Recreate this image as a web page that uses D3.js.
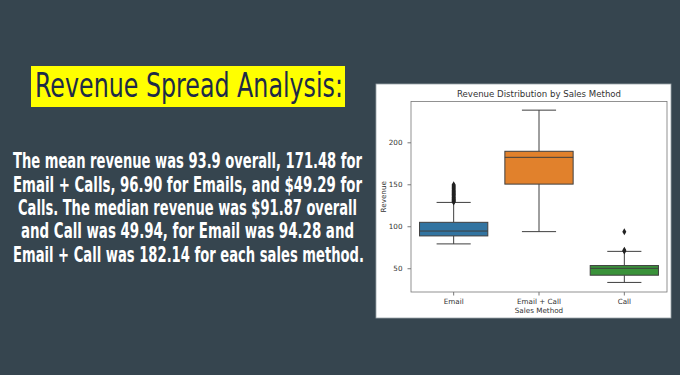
<!DOCTYPE html>
<html>
<head>
<meta charset="utf-8">
<script src="https://cdn.jsdelivr.net/npm/d3@7"></script>
<style>
  html, body { margin: 0; padding: 0; background: #36454f; }
  svg { display: block; }
</style>
</head>
<body>
<div id="slide"></div>
<script>
// slide text
const headline = "Revenue Spread Analysis:";
const bodyLines = [
    "The mean revenue was 93.9 overall, 171.48 for",
    "Email + Calls, 96.90 for Emails, and $49.29 for",
    "Calls. The median revenue was $91.87 overall",
    "and Call was 49.94, for Email was 94.28 and",
    "Email + Call was 182.14 for each sales method."
];
const bodySpans = [[13, 362], [13, 362], [18, 357], [21, 354], [13, 364]];

// box plot data
const methods = ["Email", "Email + Call", "Call"];
const q1 = [88.5, 150.2, 41.7];
const medians = [94.3, 182.1, 49.9];
const q3 = [104.7, 189.3, 53.2];
const whiskerLow = [79.0, 93.6, 33.1];
const whiskerHigh = [128.4, 238.3, 70.1];
const outliers = [
    [129.0, 129.6, 130.3, 131.0, 131.8, 132.5, 133.4, 134.2, 135.0, 135.9, 136.8, 137.7,
     138.5, 139.4, 140.3, 141.2, 142.1, 143.0, 144.0, 145.0, 146.1, 147.2, 148.3, 149.5],
    [],
    [70.6, 71.3, 93.4]
];
const boxColors = ["#3274a1", "#e1812c", "#3a923a"];
const yTicks = [50, 100, 150, 200];

const width = 680, height = 375;

const svg = d3.select("#slide").append("svg")
    .attr("width", width)
    .attr("height", height);

svg.append("rect")
    .attr("width", width)
    .attr("height", height)
    .attr("fill", "#36454f");

// headline with yellow highlight
svg.append("rect")
    .attr("x", 31).attr("y", 66)
    .attr("width", 314).attr("height", 41)
    .attr("fill", "#ffff00");

svg.append("text")
    .attr("x", 35).attr("y", 97)
    .attr("textLength", 308)
    .attr("lengthAdjust", "spacingAndGlyphs")
    .style("font-family", "'DejaVu Sans Condensed', 'Liberation Sans Narrow', sans-serif")
    .style("font-stretch", "condensed")
    .style("font-size", "34px")
    .attr("fill", "#1d2b48")
    .text(headline);

svg.append("g")
    .selectAll("text")
    .data(bodyLines)
    .join("text")
    .attr("x", (d, i) => bodySpans[i][0])
    .attr("y", (d, i) => 168.3 + i * 23.3)
    .attr("textLength", (d, i) => bodySpans[i][1] - bodySpans[i][0])
    .attr("lengthAdjust", "spacingAndGlyphs")
    .style("font-family", "'DejaVu Sans Condensed', 'Liberation Sans Narrow', sans-serif")
    .style("font-stretch", "condensed")
    .style("font-weight", "bold")
    .style("font-size", "21px")
    .attr("fill", "#ffffff")
    .text(d => d);

// the embedded chart image
svg.append("rect")
    .attr("x", 376).attr("y", 84)
    .attr("width", 295).attr("height", 234)
    .attr("fill", "#ffffff")
    .attr("stroke", "#9aa3a8")
    .attr("stroke-width", 0.8);

const plot = { left: 411, right: 667, top: 101.5, bottom: 292 };

const x = d3.scaleBand()
    .domain(methods)
    .range([plot.left, plot.right])
    .paddingInner(0.2)
    .paddingOuter(0.1);

const y = d3.scaleLinear()
    .domain([21.7, 248.6])
    .range([plot.bottom, plot.top]);

const chart = svg.append("g");

chart.append("text")
    .attr("x", (plot.left + plot.right) / 2)
    .attr("y", 96.5)
    .attr("text-anchor", "middle")
    .style("font-family", "'DejaVu Sans', sans-serif")
    .style("font-size", "8.6px")
    .attr("fill", "#333")
    .text("Revenue Distribution by Sales Method");

const yAxis = chart.append("g")
    .attr("transform", `translate(${plot.left},0)`)
    .call(d3.axisLeft(y).tickValues(yTicks).tickSize(3.5).tickPadding(5));

const xAxis = chart.append("g")
    .attr("transform", `translate(0,${plot.bottom})`)
    .call(d3.axisBottom(x).tickSize(3.5).tickPadding(3));

[yAxis, xAxis].forEach(ax => {
    ax.select(".domain").remove();
    ax.selectAll("line").attr("stroke", "#555").attr("stroke-width", 0.8);
    ax.selectAll("text")
        .style("font-family", "'DejaVu Sans', sans-serif")
        .style("font-size", "7.2px")
        .attr("fill", "#333");
});

chart.append("rect")
    .attr("x", plot.left).attr("y", plot.top)
    .attr("width", plot.right - plot.left)
    .attr("height", plot.bottom - plot.top)
    .attr("fill", "none")
    .attr("stroke", "#777")
    .attr("stroke-width", 0.8);

chart.append("text")
    .attr("x", (plot.left + plot.right) / 2)
    .attr("y", 313)
    .attr("text-anchor", "middle")
    .style("font-family", "'DejaVu Sans', sans-serif")
    .style("font-size", "7.2px")
    .attr("fill", "#333")
    .text("Sales Method");

chart.append("text")
    .attr("transform", `translate(386,${(plot.top + plot.bottom) / 2}) rotate(-90)`)
    .attr("text-anchor", "middle")
    .style("font-family", "'DejaVu Sans', sans-serif")
    .style("font-size", "7.2px")
    .attr("fill", "#333")
    .text("Revenue");

// boxes
const lineColor = "#3f3f3f";
const bw = x.bandwidth();

const boxes = chart.append("g")
    .selectAll("g")
    .data(methods)
    .join("g");

boxes.each(function(m, i) {
    const g = d3.select(this);
    const x0 = x(m), cx = x0 + bw / 2;

    g.append("line")
        .attr("x1", cx).attr("x2", cx)
        .attr("y1", y(whiskerLow[i])).attr("y2", y(q1[i]))
        .attr("stroke", lineColor).attr("stroke-width", 1);
    g.append("line")
        .attr("x1", cx).attr("x2", cx)
        .attr("y1", y(q3[i])).attr("y2", y(whiskerHigh[i]))
        .attr("stroke", lineColor).attr("stroke-width", 1);
    [whiskerLow[i], whiskerHigh[i]].forEach(v => {
        g.append("line")
            .attr("x1", cx - bw / 4).attr("x2", cx + bw / 4)
            .attr("y1", y(v)).attr("y2", y(v))
            .attr("stroke", lineColor).attr("stroke-width", 1);
    });

    g.append("rect")
        .attr("x", x0).attr("y", y(q3[i]))
        .attr("width", bw).attr("height", y(q1[i]) - y(q3[i]))
        .attr("fill", boxColors[i])
        .attr("stroke", lineColor).attr("stroke-width", 1);

    g.append("line")
        .attr("x1", x0).attr("x2", x0 + bw)
        .attr("y1", y(medians[i])).attr("y2", y(medians[i]))
        .attr("stroke", lineColor).attr("stroke-width", 1);

    g.selectAll("path.flier")
        .data(outliers[i])
        .join("path")
        .attr("class", "flier")
        .attr("transform", d => `translate(${cx},${y(d)})`)
        .attr("d", d3.symbol(d3.symbolDiamond, 14))
        .attr("fill", "#222");
});
</script>
</body>
</html>
